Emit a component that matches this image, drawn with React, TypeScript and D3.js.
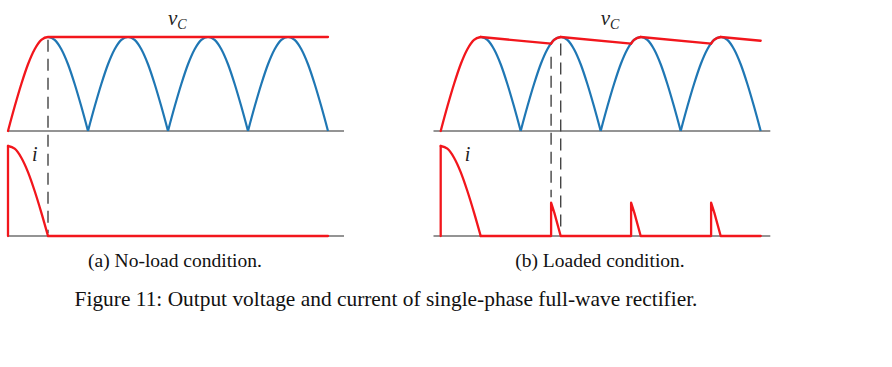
import React, { useEffect, useRef } from "react";
import * as d3 from "d3";

const WIDTH = 892;
const HEIGHT = 367;

// one rectified half-cycle, sampled every 15 degrees (normalised to the peak)
const arcProfile = [0, 0.26, 0.5, 0.71, 0.87, 0.97, 1, 0.97, 0.87, 0.71, 0.5, 0.26, 0];
const halfCycles = [0, 1, 2, 3];

// capacitor current during the first charge, t = 0 .. 0.5 half-cycle
const chargeCurrent = [1, 0.97, 0.87, 0.71, 0.5, 0.26, 0];

// loaded case: the diode conducts again at these times (half-cycles)
const peakTimes = [0.5, 1.5, 2.5, 3.5];
const rechargeTimes = [1.38, 2.38, 3.38];
const rechargeVoltage = [0.93, 0.93, 0.93];
const endVoltage = 0.96;
// short recharge current pulse: [dt after turn-on, i]
const pulseShape = [
  [0, 0.37],
  [0.04, 0.26],
  [0.12, 0],
];

const tEnd = 4;
const step = 1 / 12;

const panels = [
  {
    key: "a",
    x0: 8,
    axis: [0, 4.2],
    loaded: false,
    caption: "(a) No-load condition.",
    captionX: 175,
    dashes: [{ t: 0.5, vTop: 0.97, iBottom: 0.03 }],
  },
  {
    key: "b",
    x0: 440.7,
    axis: [-0.09, 4.12],
    loaded: true,
    caption: "(b) Loaded condition.",
    captionX: 600,
    dashes: [
      { t: 1.38, vTop: 0.79, iBottom: 0.43 },
      { t: 1.5, vTop: 0.93, iBottom: 0.04 },
    ],
  },
];

const RED = "#f2161c";
const BLUE = "#1f77b4";
const AXIS = "#707070";
const DASH = "#444";
const FONT = "'Liberation Serif', 'Times New Roman', serif";

function drawPanel(svg, p) {
  const x = d3.scaleLinear().domain([0, tEnd]).range([p.x0, p.x0 + 320]);
  const yV = d3.scaleLinear().domain([0, 1]).range([131, 37]);
  const yI = d3.scaleLinear().domain([0, 1]).range([236, 146]);

  const g = svg.append("g");

  const lineV = d3
    .line()
    .x((d) => x(d[0]))
    .y((d) => yV(d[1]));
  const smoothV = d3
    .line()
    .x((d) => x(d[0]))
    .y((d) => yV(d[1]))
    .curve(d3.curveMonotoneX);
  const lineI = d3
    .line()
    .x((d) => x(d[0]))
    .y((d) => yI(d[1]));
  const smoothI = d3
    .line()
    .x((d) => x(d[0]))
    .y((d) => yI(d[1]))
    .curve(d3.curveMonotoneX);

  // axes
  [yV(0), yI(0)].forEach((yy) => {
    g.append("line")
      .attr("x1", x(p.axis[0]))
      .attr("x2", x(p.axis[1]))
      .attr("y1", yy)
      .attr("y2", yy)
      .attr("stroke", AXIS)
      .attr("stroke-width", 1.3);
  });

  // dashed markers
  p.dashes.forEach((d) => {
    g.append("line")
      .attr("x1", x(d.t))
      .attr("x2", x(d.t))
      .attr("y1", yV(d.vTop))
      .attr("y2", yI(d.iBottom))
      .attr("stroke", DASH)
      .attr("stroke-width", 1.4)
      .attr("stroke-dasharray", "12 7");
  });

  // rectified source voltage (blue)
  halfCycles.forEach((k) => {
    const pts = arcProfile
      .map((v, j) => [k + j * step, v])
      .filter((d) => d[0] >= 0.5 - 1e-9);
    g.append("path")
      .attr("d", smoothV(pts))
      .attr("fill", "none")
      .attr("stroke", BLUE)
      .attr("stroke-width", 2.2);
  });

  const red = (d) =>
    g
      .append("path")
      .attr("d", d)
      .attr("fill", "none")
      .attr("stroke", RED)
      .attr("stroke-width", 2.3)
      .attr("stroke-linejoin", "round")
      .attr("stroke-linecap", "round");

  const rise = arcProfile.slice(0, 7).map((v, j) => [j * step, v]);

  // capacitor voltage
  if (!p.loaded) {
    red(smoothV([...rise, [tEnd, 1]]));
  } else {
    red(smoothV(rise));
    peakTimes.forEach((pk, i) => {
      const tOff = i < rechargeTimes.length ? rechargeTimes[i] : tEnd;
      const vOff = i < rechargeTimes.length ? rechargeVoltage[i] : endVoltage;
      red(lineV([[pk, 1], [tOff, vOff]]));
      if (i < rechargeTimes.length) {
        const k = Math.round(pk + 0.5);
        const arc = arcProfile
          .map((v, j) => [k + j * step, v])
          .filter((d) => d[0] > tOff && d[0] <= pk + 1 + 1e-9);
        red(smoothV([[tOff, vOff], ...arc]));
      }
    });
  }

  // capacitor current
  red(lineI([[0, 0], [0, chargeCurrent[0]]]));
  red(smoothI(chargeCurrent.map((v, j) => [j * step, v])));
  const flat = [[0.5, 0]];
  if (p.loaded) {
    rechargeTimes.forEach((t0) => {
      flat.push([t0, 0]);
      pulseShape.forEach((s) => flat.push([t0 + s[0], s[1]]));
    });
  }
  flat.push([tEnd, 0]);
  red(lineI(flat));

  // labels
  const vc = g
    .append("text")
    .attr("x", x(2.0))
    .attr("y", 25)
    .attr("font-family", FONT)
    .attr("font-style", "italic")
    .attr("font-size", 21)
    .attr("fill", "#222");
  vc.append("tspan").text("v");
  vc.append("tspan").attr("font-size", 14).attr("dy", 4).text("C");

  g.append("text")
    .attr("x", x(0.3))
    .attr("y", yI(0.83))
    .attr("font-family", FONT)
    .attr("font-style", "italic")
    .attr("font-size", 20)
    .attr("fill", "#222")
    .text("i");

  g.append("text")
    .attr("x", p.captionX)
    .attr("y", 267)
    .attr("text-anchor", "middle")
    .attr("font-family", FONT)
    .attr("font-size", 19.5)
    .attr("fill", "#111")
    .text(p.caption);
}

export default function App() {
  const svgRef = useRef(null);

  useEffect(() => {
    const svg = d3.select(svgRef.current);
    svg.selectAll("*").remove(); // clear previous content

    panels.forEach((p) => drawPanel(svg, p));

    svg
      .append("text")
      .attr("x", 386)
      .attr("y", 306)
      .attr("text-anchor", "middle")
      .attr("font-family", FONT)
      .attr("font-size", 21.4)
      .attr("fill", "#111")
      .text("Figure 11: Output voltage and current of single-phase full-wave rectifier.");
  }, []);

  return (
    <svg
      ref={svgRef}
      width={WIDTH}
      height={HEIGHT}
      style={{ position: "absolute", left: 0, top: 0, background: "#fff" }}
    ></svg>
  );
}
